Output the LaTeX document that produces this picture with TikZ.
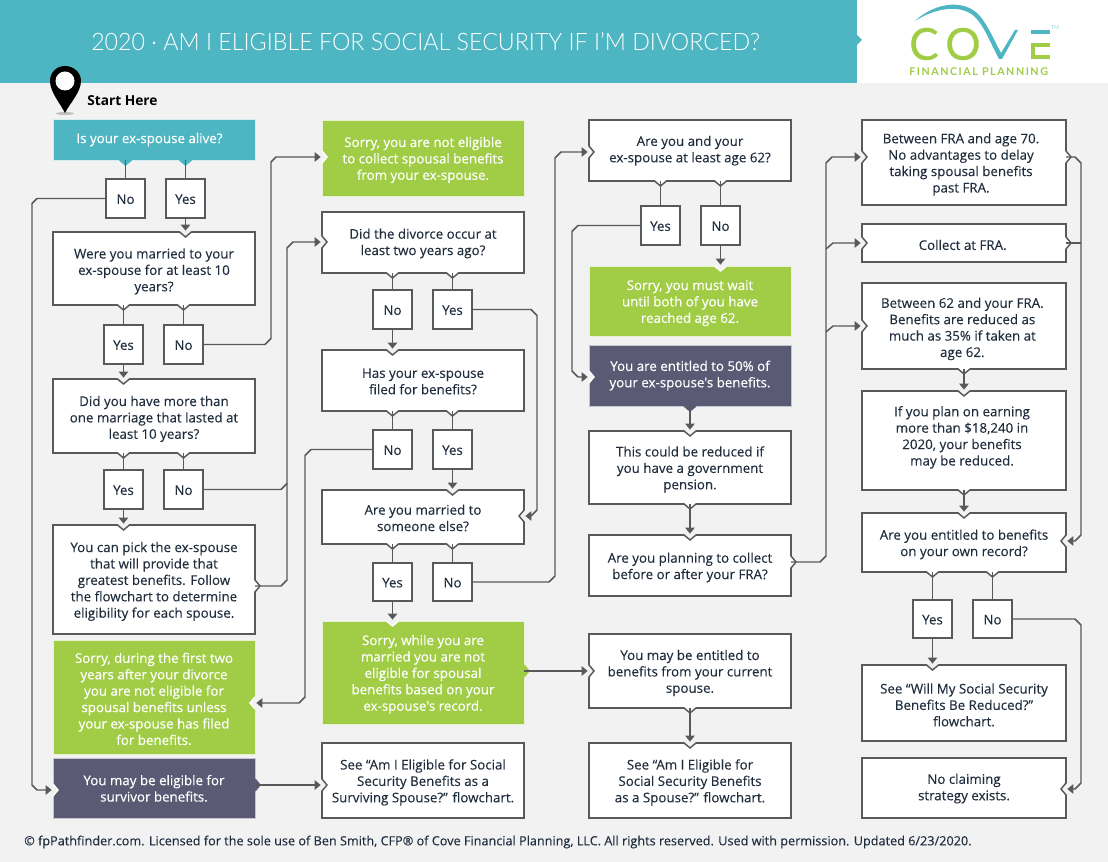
\documentclass[tikz,border=0pt]{standalone}
\usepackage{fontspec}
\setmainfont{Open Sans}
\newfontfamily\darkf[FakeBold=0.12]{Open Sans}
\newfontfamily\whitef[FakeBold=0.4]{Open Sans}
\newfontfamily\lato{Lato}
\newfontfamily\latob[FakeBold=0.6]{Lato}
\newfontfamily\latolight[FakeStretch=0.968]{Lato Light}
\usetikzlibrary{arrows.meta}
\definecolor{teal}{HTML}{4DB6C2}
\definecolor{grn}{HTML}{A0CD45}
\definecolor{slat}{HTML}{5A5A75}
\definecolor{bgc}{HTML}{F2F2F2}
\definecolor{txtc}{HTML}{1F2D3D}
\definecolor{linec}{HTML}{58595B}
\tikzset{
  base/.style={align=center,outer sep=0pt,inner sep=0pt},
  wbox/.style={base,font=\darkf\fontsize{10}{12.3}\selectfont,fill=white,draw=linec,line width=1.1pt,text=txtc},
  tbox/.style={base,font=\whitef\fontsize{10}{12.3}\selectfont,fill=teal,draw=white!75!teal,line width=.5pt,text=white},
  gbox/.style={base,font=\whitef\fontsize{10}{12.3}\selectfont,fill=grn,draw=white!75!grn,line width=.5pt,text=white},
  sbox/.style={base,font=\whitef\fontsize{10}{12.3}\selectfont,fill=slat,draw=white!65!slat,line width=.5pt,text=white},
  conn/.style={draw=linec,line width=1.1pt},
  arr/.style={conn,-{Triangle[width=7pt,length=4.5pt]},shorten >=1pt},
}
\newcommand\bx[8][10.5pt]{\node[#3,minimum width={(#6-#4)*0.75pt},minimum height={(#7-#5)*0.75pt}] (#2) at ({(#4+#6)/2},{(#5+#7)/2}) {\rule{0pt}{#1}#8};}
\newcommand\yn[6]{\node[wbox,minimum width={(#4-#2)*0.75pt},minimum height={(#5-#3)*0.75pt}] (#1) at ({(#2+#4)/2},{(#3+#5)/2}) {\rule{0pt}{8.2pt}#6};}
% inward notch: point, unit vector into the box, chevron colour
\newcommand\inn[4]{%
  \fill[bgc,shift={(#1)}] ({-6*#3-#2},{-6*#2-#3}) -- ({6*#3-#2},{6*#2-#3}) -- ({5*#2},{5*#3}) -- cycle;
  \draw[#4,line width=1.1pt,shift={(#1)}] ({-6*#3},{-6*#2}) -- ({5*#2},{5*#3}) -- ({6*#3},{6*#2});}
% outward notch: point, unit vector out of the box, fill, line
\newcommand\outn[5]{%
  \fill[#4,shift={(#1)}] ({-6*#3-#2},{-6*#2-#3}) -- ({6*#3-#2},{6*#2-#3}) -- ({5*#2},{5*#3}) -- cycle;
  \draw[#5,line width=1.1pt,shift={(#1)}] ({-6*#3},{-6*#2}) -- ({5*#2},{5*#3}) -- ({6*#3},{6*#2});}
\begin{document}
\begin{tikzpicture}[x=0.75pt,y=-0.75pt]
\useasboundingbox (0,0) rectangle (1108,862);
\fill[bgc] (0,83) rectangle (1108,862);
\fill[white] (857,0) rectangle (1108,83);
\fill[teal] (0,0) rectangle (857,83);
\fill[teal] (857,35) -- (862,40) -- (857,45) -- cycle;
\node[text=white,anchor=west,inner sep=0pt,font=\latolight\fontsize{18}{22}\selectfont] (title) at (91,41.5) {2020 · AM I ELIGIBLE FOR SOCIAL SECURITY IF I’M DIVORCED?};
% logo
\node[text=grn,font=\latob\fontsize{33}{33}\selectfont] (logoc) at (924,44) {C};
\node[text=grn,font=\latob\fontsize{33}{33}\selectfont] (logoo) at (963,44) {O};
\fill[teal] (915,21) .. controls (935,2) and (968,-3) .. (983,20) .. controls (990,30) and (996,44) .. (1001,53) -- (1015,30) -- (1018,30) -- (1002,59) -- (999,59) .. controls (990,42) and (985,28) .. (976,18) .. controls (962,3) and (935,8) .. (915,21) -- cycle;
\fill[teal] (1031,30) rectangle (1050,34);
\fill[grn] (1031,43) rectangle (1050,47);
\fill[grn] (1031,43) rectangle (1035,59);
\fill[grn] (1031,55) rectangle (1050,59);
\node[text=grn,anchor=west,inner sep=0pt,font=\lato\bfseries\fontsize{8}{8}\selectfont] (logof) at (909,72) {\addfontfeature{LetterSpace=14.5}FINANCIAL PLANNING};
\node[text=teal!60!white,font=\lato\fontsize{4}{4}\selectfont] (logot) at (1055,28) {TM};
% pin
\fill[black!25] (65,113.5) ellipse (9 and 1.5);
\fill[black] (65,113) .. controls (60,103) and (50,92) .. (50,81) .. controls (50,72) and (57,66) .. (65,66) .. controls (73,66) and (81,72) .. (81,81) .. controls (81,92) and (70,103) .. (65,113) -- cycle;
\fill[white] (65,81) circle (9.5);
\node[anchor=west,inner sep=0pt,font=\bfseries\fontsize{10.3}{12}\selectfont,text=black] (start) at (87,100.5) {Start Here};
% column 1
\bx[7.8pt]{a}{tbox}{53}{119}{255}{160}{\kern-6.8pt Is your ex-spouse alive?}
\yn{an}{106}{179}{145}{218}{No}
\yn{ay}{166}{179}{205}{218}{Yes}
\bx[12pt]{b}{wbox}{53}{232}{255}{305}{Were you married to your\\ex-spouse for at least 10\\years?}
\yn{by}{104}{325}{143}{364}{Yes}
\yn{bn}{164}{325}{203}{364}{No}
\bx[12pt]{c}{wbox}{53}{379}{255}{453}{Did you have more than\\one marriage that lasted at\\least 10 years?}
\yn{cy}{104}{470}{143}{509}{Yes}
\yn{cn}{164}{470}{203}{509}{No}
\bx{d}{wbox}{53}{525}{255}{634}{You can pick the ex-spouse\\that will provide that\\greatest benefits. Follow\\the flowchart to determine\\eligibility for each spouse.}
\bx{e}{gbox}{53}{640}{255}{754}{Sorry, during the first two\\years after your divorce\\you are not eligible for\\spousal benefits unless\\your ex-spouse has filed\\for benefits.}
\bx[8.2pt]{f}{sbox}{53}{758}{255}{818}{You may be eligible for\\survivor benefits.}
% column 2
\bx{g}{gbox}{322}{120}{524}{196}{Sorry, you are not eligible\\to collect spousal benefits\\from your ex-spouse.}
\bx[9pt]{h}{wbox}{322}{212}{524}{273}{Did the divorce occur at\\least two years ago?}
\yn{hn}{373}{290}{412}{329}{No}
\yn{hy}{433}{290}{472}{329}{Yes}
\bx[8.5pt]{i}{wbox}{322}{350}{524}{411}{Has your ex-spouse\\filed for benefits?}
\yn{in}{373}{430}{412}{469}{No}
\yn{iy}{433}{430}{472}{469}{Yes}
\bx[9pt]{j}{wbox}{322}{490}{524}{544}{Are you married to\\someone else?}
\yn{jy}{373}{563}{412}{601}{Yes}
\yn{jn}{433}{563}{472}{601}{No}
\bx{k}{gbox}{322}{621}{524}{724}{Sorry, while you are\\married you are not\\eligible for spousal\\benefits based on your\\ex-spouse's record.}
\bx{l}{wbox}{322}{743}{524}{818}{See “Am I Eligible for Social\\Security Benefits as a\\Surviving Spouse?” flowchart.}
% column 3
\bx[7.8pt]{m}{wbox}{589}{120}{791}{181}{Are you and your\\ex-spouse at least age 62?}
\yn{my}{641}{206}{680}{245}{Yes}
\yn{mn}{701}{206}{740}{245}{No}
\bx{n}{gbox}{589}{266}{791}{336}{Sorry, you must wait\\until both of you have\\reached age 62.}
\bx[7.8pt]{o}{sbox}{589}{345}{791}{406}{You are entitled to 50\% of\\your ex-spouse's benefits.}
\bx{p}{wbox}{589}{431}{791}{504}{This could be reduced if\\you have a government\\pension.}
\bx{q}{wbox}{589}{535}{791}{596}{Are you planning to collect\\before or after your FRA?}
\bx{r}{wbox}{589}{634}{791}{708}{You may be entitled to\\benefits from your current\\spouse.}
\bx{s}{wbox}{589}{743}{791}{818}{See “Am I Eligible for\\Social Security Benefits\\as a Spouse?” flowchart.}
% column 4
\bx{t}{wbox}{862}{120}{1066}{205}{\kern-4.5pt Between FRA and age 70.\\\kern-4.5pt No advantages to delay\\\kern-4.5pt taking spousal benefits\\\kern-4.5pt past FRA.}
\bx{u}{wbox}{862}{224}{1066}{262}{\kern-2pt Collect at FRA.}
\bx[12pt]{v}{wbox}{862}{283}{1066}{369}{\kern-2.5pt Between 62 and your FRA.\\\kern-2.5pt Benefits are reduced as\\\kern-2.5pt much as 35\% if taken at\\\kern-2.5pt age 62.}
\bx[7.8pt]{w}{wbox}{862}{391}{1066}{490}{\kern-3pt If you plan on earning\\\kern-3pt more than \$18,240 in\\\kern-3pt 2020, your benefits\\\kern-3pt may be reduced.\rule[-7.2pt]{0pt}{7.2pt}}
\bx{x}{wbox}{862}{513}{1066}{572}{Are you entitled to benefits\\on your own record?}
\yn{xy}{913}{600}{952}{638}{Yes}
\yn{xn}{973}{600}{1012}{638}{No}
\bx{y}{wbox}{862}{665}{1066}{741}{See “Will My Social Security\\Benefits Be Reduced?”\\flowchart.}
\bx[8.5pt]{z}{wbox}{862}{758}{1066}{818}{No claiming\\strategy exists.}
% footer
\node[anchor=west,inner sep=0pt,text=txtc,font=\darkf\fontsize{9.5}{11}\selectfont] (foot) at (24,842) {© fpPathfinder.com. Licensed for the sole use of Ben Smith, CFP® of Cove Financial Planning, LLC. All rights reserved. Used with permission. Updated 6/23/2020.};
% exit notches (bottom)
\outn{a.south -| an.north}{0}{1}{teal}{teal}
\outn{a.south -| ay.north}{0}{1}{teal}{teal}
\outn{b.south -| by.north}{0}{1}{white}{linec}
\outn{b.south -| bn.north}{0}{1}{white}{linec}
\outn{c.south -| cy.north}{0}{1}{white}{linec}
\outn{c.south -| cn.north}{0}{1}{white}{linec}
\outn{h.south -| hn.north}{0}{1}{white}{linec}
\outn{h.south -| hy.north}{0}{1}{white}{linec}
\outn{i.south -| in.north}{0}{1}{white}{linec}
\outn{i.south -| iy.north}{0}{1}{white}{linec}
\outn{j.south -| jy.north}{0}{1}{white}{linec}
\outn{j.south -| jn.north}{0}{1}{white}{linec}
\outn{m.south -| my.north}{0}{1}{white}{linec}
\outn{m.south -| mn.north}{0}{1}{white}{linec}
\outn{o.south}{0}{1}{slat}{slat}
\outn{p.south}{0}{1}{white}{linec}
\outn{r.south}{0}{1}{white}{linec}
\outn{v.south}{0}{1}{white}{linec}
\outn{w.south}{0}{1}{white}{linec}
\outn{x.south -| xy.north}{0}{1}{white}{linec}
\outn{x.south -| xn.north}{0}{1}{white}{linec}
% exit notches (right)
\outn{d.east |- 0,586}{1}{0}{white}{linec}
\outn{f.east |- 0,785}{1}{0}{slat}{slat}
\outn{k.east |- 0,671}{1}{0}{grn}{grn}
\outn{q.east |- 0,562}{1}{0}{white}{linec}
\outn{t.east |- 0,157}{1}{0}{white}{linec}
\outn{u.east |- 0,243}{1}{0}{white}{linec}
% entry notches (top)
\inn{b.north -| ay.south}{0}{1}{linec}
\inn{c.north -| by.south}{0}{1}{linec}
\inn{d.north -| cy.south}{0}{1}{linec}
\inn{i.north -| hn.south}{0}{1}{linec}
\inn{j.north -| iy.south}{0}{1}{linec}
\inn{k.north -| jy.south}{0}{1}{white}
\inn{n.north -| mn.south}{0}{1}{white}
\inn{p.north}{0}{1}{linec}
\inn{q.north}{0}{1}{linec}
\inn{s.north}{0}{1}{linec}
\inn{w.north}{0}{1}{linec}
\inn{x.north}{0}{1}{linec}
\inn{y.north -| xy.south}{0}{1}{linec}
% entry notches (left)
\inn{f.west |- 0,790}{1}{0}{white}
\inn{g.west |- 0,157}{1}{0}{white}
\inn{h.west |- 0,242}{1}{0}{linec}
\inn{l.west |- 0,785}{1}{0}{linec}
\inn{m.west |- 0,152}{1}{0}{linec}
\inn{o.west |- 0,377}{1}{0}{white}
\inn{r.west |- 0,671}{1}{0}{linec}
\inn{t.west |- 0,157}{1}{0}{linec}
\inn{u.west |- 0,243}{1}{0}{linec}
\inn{v.west |- 0,326}{1}{0}{linec}
% entry notches (right)
\inn{e.east |- 0,703}{-1}{0}{white}
\inn{j.east |- 0,516}{-1}{0}{linec}
\inn{x.east |- 0,541}{-1}{0}{linec}
\inn{z.east |- 0,789}{-1}{0}{linec}
% connectors: column 1
\draw[conn] (a.south -| an.north) -- (an.north);
\draw[conn] (a.south -| ay.north) -- (ay.north);
\draw[arr] (ay.south) -- (b.north -| ay.south);
\draw[conn] (b.south -| by.north) -- (by.north);
\draw[conn] (b.south -| bn.north) -- (bn.north);
\draw[arr] (by.south) -- (c.north -| by.south);
\draw[conn] (c.south -| cy.north) -- (cy.north);
\draw[conn] (c.south -| cn.north) -- (cn.north);
\draw[arr] (cy.south) -- (d.north -| cy.south);
\draw[arr] (an.west) -- (37,198.5) -- (32,203.5) -- (32,785) -- (37,790) -- (f.west |- 0,790);
\draw[arr] (bn.east) -- (265,344.5) -- (271,338.5) -- (271,162) -- (276,157) -- (g.west |- 0,157);
\draw[conn] (cn.east) -- (281,489.5) -- (287,483.5);
\draw[arr] (d.east |- 0,586) -- (281,586) -- (287,580) -- (287,248) -- (293,242) -- (h.west |- 0,242);
\draw[arr] (f.east |- 0,785) -- (l.west |- 0,785);
% column 2
\draw[conn] (h.south -| hn.north) -- (hn.north);
\draw[conn] (h.south -| hy.north) -- (hy.north);
\draw[arr] (hn.south) -- (i.north -| hn.south);
\draw[arr] (hy.east) -- (531,309.5) -- (537,315.5) -- (537,510) -- (531,516) -- (j.east |- 0,516);
\draw[conn] (i.south -| in.north) -- (in.north);
\draw[conn] (i.south -| iy.north) -- (iy.north);
\draw[arr] (iy.south) -- (j.north -| iy.south);
\draw[arr] (in.west) -- (311,449.5) -- (305,455.5) -- (305,697) -- (299,703) -- (e.east |- 0,703);
\draw[conn] (j.south -| jy.north) -- (jy.north);
\draw[conn] (j.south -| jn.north) -- (jn.north);
\draw[arr] (jy.south) -- (k.north -| jy.south);
\draw[arr] (jn.east) -- (549,582) -- (555,576) -- (555,158) -- (561,152) -- (m.west |- 0,152);
\draw[arr] (k.east |- 0,671) -- (r.west |- 0,671);
% column 3
\draw[conn] (m.south -| my.north) -- (my.north);
\draw[conn] (m.south -| mn.north) -- (mn.north);
\draw[arr] (mn.south) -- (n.north -| mn.south);
\draw[arr] (my.west) -- (578,225.5) -- (572,231.5) -- (572,371) -- (578,377) -- (o.west |- 0,377);
\draw[arr] (o.south) -- (p.north);
\draw[arr] (p.south) -- (q.north);
\draw[arr] (r.south) -- (s.north);
\draw[arr] (q.east |- 0,562) -- (820,562) -- (826,556) -- (826,163) -- (832,157) -- (t.west |- 0,157);
\draw[arr] (826,249) -- (833,243) -- (u.west |- 0,243);
\draw[arr] (826,332) -- (833,326) -- (v.west |- 0,326);
% column 4
\draw[arr] (t.east |- 0,157) -- (1075,157) -- (1081,163) -- (1081,535) -- (1075,541) -- (x.east |- 0,541);
\draw[conn] (u.east |- 0,243) -- (1081,243);
\draw[arr] (v.south) -- (w.north);
\draw[arr] (w.south) -- (x.north);
\draw[conn] (x.south -| xy.north) -- (xy.north);
\draw[conn] (x.south -| xn.north) -- (xn.north);
\draw[arr] (xy.south) -- (y.north -| xy.south);
\draw[arr] (xn.east) -- (1075,619) -- (1081,625) -- (1081,783) -- (1075,789) -- (z.east |- 0,789);
\end{tikzpicture}
\end{document}
